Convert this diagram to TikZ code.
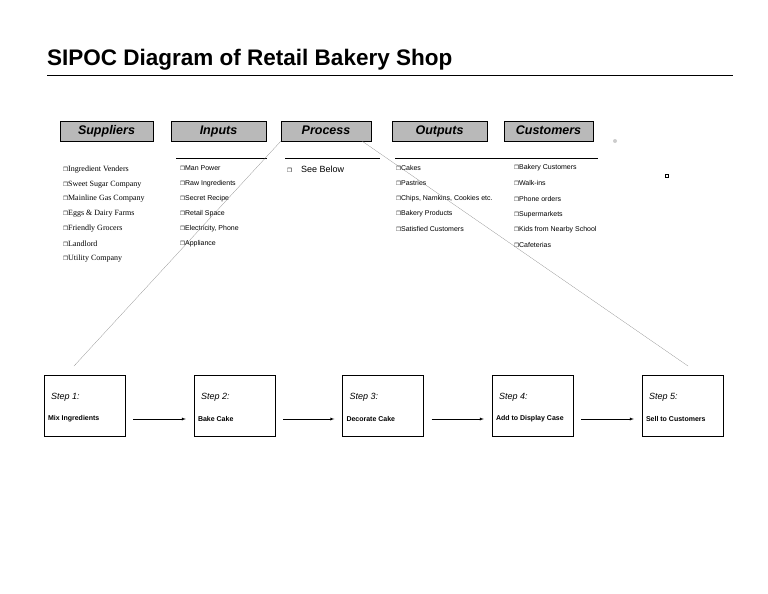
\documentclass[tikz,border=0pt]{standalone}
\usepackage{fontspec}
\setmainfont{Liberation Sans}
\newfontfamily\serifnames{Liberation Serif}
\newfontfamily\boxmark{DejaVu Sans}
\usetikzlibrary{arrows,positioning}
\tikzset{
  head/.style={draw, fill=gray!55, minimum height=20pt, inner sep=0pt, text height=9pt, text depth=2pt, font=\bfseries\itshape\fontsize{12.5}{12.5}\selectfont},
  stepbox/.style={draw, minimum width=81pt, minimum height=61pt, inner sep=0pt},
  item/.style={anchor=west, inner sep=0pt, font=\fontsize{7}{7}\selectfont},
  sitem/.style={anchor=west, inner sep=0pt, font=\serifnames\fontsize{8}{8}\selectfont},
}
\newcommand{\tick}{{\boxmark\fontsize{5.5}{5.5}\selectfont ❒}}
\begin{document}
\begin{tikzpicture}[x=1pt,y=-1pt]
  \useasboundingbox (0,0) rectangle (768,594);
  \node[anchor=west, inner sep=0pt, font=\bfseries\fontsize{22.5}{22.5}\selectfont] (Title) at (47,60) {SIPOC Diagram of Retail Bakery Shop};
  \draw (47,75) -- (733,75);

  % headers
  \node[head, minimum width=93pt] (Sup) at (106.5,131) {Suppliers};
  \node[head, minimum width=95pt] (Inp) at (218.5,131) {Inputs};
  \node[head, minimum width=90pt] (Pro) at (326,131) {Process};
  \node[head, minimum width=95pt] (Out) at (439.5,131) {Outputs};
  \node[head, minimum width=89pt] (Cus) at (548.5,131) {Customers};
  \draw (176,158) -- (267,158);
  \draw (285,158) -- (380,158);
  \draw (395,158) -- (598,158);
  \fill[gray!40] (615,141) circle (2pt);
  \draw (665.5,174.5) rectangle (668.5,177.5);

  % lists
  \foreach \t [count=\i from 0] in {Ingredient Venders, Sweet Sugar Company, Mainline Gas Company, Eggs \& Dairy Farms}
    \node[sitem] at (63,170+14.5*\i) {\tick\t};
  \foreach \t [count=\i from 0] in {Friendly Grocers, Landlord, Utility Company}
    \node[sitem] at (63,229+15*\i) {\tick\t};
  \foreach \t [count=\i from 0] in {Man Power, Raw Ingredients, Secret Recipe, Retail Space, {Electricity, Phone}, Appliance}
    \node[item] at (180,168+15.2*\i) {\tick\t};
  \node[item, font=\fontsize{9}{9}\selectfont] (Below) at (287,169) {\tick\quad See Below};
  \foreach \t [count=\i from 0] in {Cakes, Pastries, {Chips, Namkins, Cookies etc.}, Bakery Products, Satisfied Customers}
    \node[item] at (396,168+15.2*\i) {\tick\t};
  \foreach \t [count=\i from 0] in {Bakery Customers, Walk-ins, Phone orders, Supermarkets, Kids from Nearby School, Cafeterias}
    \node[item] at (514,168+15.4*\i) {\tick\t};

  % steps
  \foreach \n/\x/\t in {1/84.5/Mix Ingredients, 2/234.5/Bake Cake, 3/383/Decorate Cake, 4/532.5/Add to Display Case, 5/682.5/Sell to Customers} {
    \node[stepbox] (S\n) at (\x,405.5) {};
    \node[anchor=west, inner sep=0pt, font=\itshape\fontsize{9}{9}\selectfont] at ([xshift=7pt,yshift=8.5pt]S\n.west) {Step \n:};
    \node[anchor=west, inner sep=0pt, font=\bfseries\fontsize{7}{7}\selectfont] at ([xshift=4pt,yshift=-13.5pt]S\n.west) {\t};
  }
  \foreach \a/\b in {1/2, 2/3, 3/4, 4/5}
    \draw[-latex] ([xshift=8pt,yshift=-13.5pt]S\a.east) -- ([xshift=-8pt,yshift=-13.5pt]S\b.west);

  \coordinate (L) at (74,366);
  \coordinate (R) at (688,366);
  \draw[gray, very thin] (Pro.south west) -- (L);
  \draw[gray, very thin] ([xshift=-9pt]Pro.south east) -- (R);
\end{tikzpicture}
\end{document}
